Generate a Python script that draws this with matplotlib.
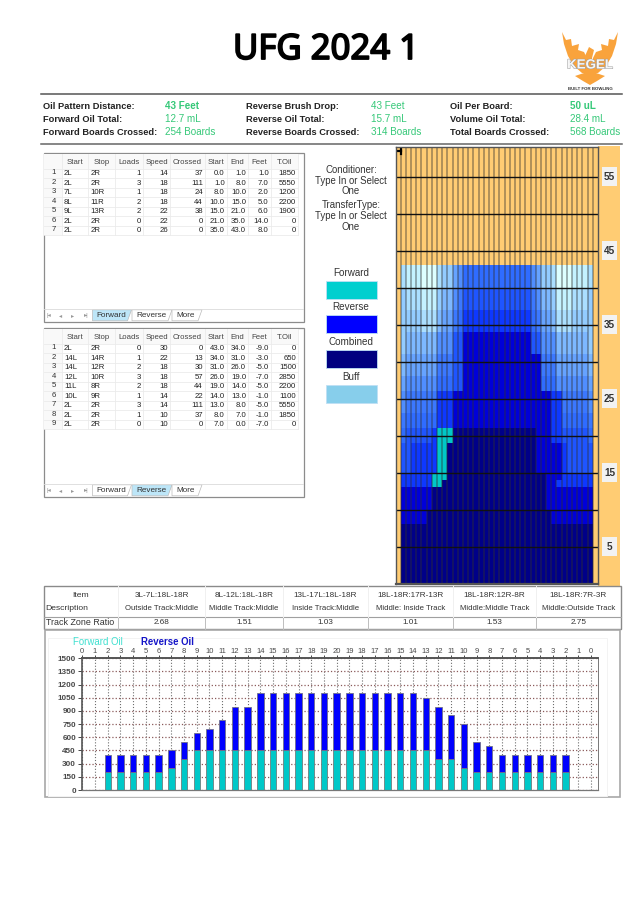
import matplotlib
matplotlib.use('Agg')
import matplotlib.pyplot as plt
import matplotlib.patheffects as pe
import numpy as np
from matplotlib.colors import ListedColormap
from matplotlib.patches import Polygon, Rectangle

W, H = 640, 905
ORANGE = '#FFCC73'
GREEN = '#35C878'
GREY = '#4A4A4A'

# top summary block
summary_labels = [['Oil Pattern Distance:', 'Forward Oil Total:', 'Forward Boards Crossed:'],
                  ['Reverse Brush Drop:', 'Reverse Oil Total:', 'Reverse Boards Crossed:'],
                  ['Oil Per Board:', 'Volume Oil Total:', 'Total Boards Crossed:']]
summary_values = [['43 Feet', '12.7 mL', '254 Boards'],
                  ['43 Feet', '15.7 mL', '314 Boards'],
                  ['50 uL', '28.4 mL', '568 Boards']]

# load tables
table_headers = ['Start', 'Stop', 'Loads', 'Speed', 'Crossed', 'Start', 'End', 'Feet', 'T.Oil']
forward_rows = [['2L', '2R', '1', '14', '37', '0.0', '1.0', '1.0', '1850'],
                ['2L', '2R', '3', '18', '111', '1.0', '8.0', '7.0', '5550'],
                ['7L', '10R', '1', '18', '24', '8.0', '10.0', '2.0', '1200'],
                ['8L', '11R', '2', '18', '44', '10.0', '15.0', '5.0', '2200'],
                ['9L', '13R', '2', '22', '38', '15.0', '21.0', '6.0', '1900'],
                ['2L', '2R', '0', '22', '0', '21.0', '35.0', '14.0', '0'],
                ['2L', '2R', '0', '26', '0', '35.0', '43.0', '8.0', '0']]
reverse_rows = [['2L', '2R', '0', '30', '0', '43.0', '34.0', '-9.0', '0'],
                ['14L', '14R', '1', '22', '13', '34.0', '31.0', '-3.0', '650'],
                ['14L', '12R', '2', '18', '30', '31.0', '26.0', '-5.0', '1500'],
                ['12L', '10R', '3', '18', '57', '26.0', '19.0', '-7.0', '2850'],
                ['11L', '8R', '2', '18', '44', '19.0', '14.0', '-5.0', '2200'],
                ['10L', '9R', '1', '14', '22', '14.0', '13.0', '-1.0', '1100'],
                ['2L', '2R', '3', '14', '111', '13.0', '8.0', '-5.0', '5550'],
                ['2L', '2R', '1', '10', '37', '8.0', '7.0', '-1.0', '1850'],
                ['2L', '2R', '0', '10', '0', '7.0', '0.0', '-7.0', '0']]

# lane map, one letter per board (13 left, 13 middle, 13 right) for each band of feet
lane_high = [59, 43, 40, 37, 34, 31, 28, 26, 23, 21, 19, 15, 14, 13, 10, 8]
lane_low = [43, 40, 37, 34, 31, 28, 26, 23, 21, 19, 15, 14, 13, 10, 8, 0]
lane_left = ['ooooooooooooo', 'o211100023356', 'o322211134467', 'o333322245578',
             'o344444466699', 'o455555577799', 'o566666688899', 'o6777777AAADD',
             'o7888888AAADD', 'o899999ATTTNN', 'o99AAAAATTNNN', 'oAAAAAATTTNNN',
             'oAAAAAATTNNNN', 'oDDDDDDNNNNNN', 'oDDDDDNNNNNNN', 'oNNNNNNNNNNNN']
lane_mid = ['ooooooooooooo', '8888888888888', '9999999999999', 'AAAAAAAAAAAAA',
            'DDDDDDDDDDDDD', 'DDDDDDDDDDDDD', 'DDDDDDDDDDDDD', 'DDDDDDDDDDDDD',
            'DDDDDDDDDDDDD', 'NNNNNNNNNNNNN', 'NNNNNNNNNNNNN', 'NNNNNNNNNNNNN',
            'NNNNNNNNNNNNN', 'NNNNNNNNNNNNN', 'NNNNNNNNNNNNN', 'NNNNNNNNNNNNN']
lane_right = ['ooooooooooooo', '653320001112o', '764431112223o', '875542223333o',
              '996664444443o', 'DD7775555554o', 'DD8886666665o', 'DDDDAA777776o',
              'DDDDAA888887o', 'NDDDAA999998o', 'NDDDDDA99999o', 'NNNDDDAAAAAAo',
              'NNNDDAAAAAAAo', 'NNNDDDDDDDDDo', 'NNNNDDDDDDDDo', 'NNNNNNNNNNNNo']
lane_codes = 'o0123456789ADNT'
lane_colors = [ORANGE, '#DDFFFF', '#C4F2FF', '#ABDFFF', '#93CCFF', '#7DB8FF', '#66A3FF',
               '#508EFF', '#3B78FF', '#2F6CFF', '#1F55FF', '#0E38FF', '#0000D8', '#000088',
               '#00C8C8']
feet_ticks = [5, 10, 15, 20, 25, 30, 35, 40, 45, 50, 55]
feet_labels = [5, 15, 25, 35, 45, 55]

# legend in the middle column
conditioner_text = ['Conditioner:', 'Type In or Select', 'One', 'TransferType:', 'Type In or Select', 'One']
legend_names = ['Forward', 'Reverse', 'Combined', 'Buff']
legend_colors = ['#00CFCF', '#0000FF', '#000080', '#87CEEB']

# track zone table
zone_items = ['3L-7L:18L-18R', '8L-12L:18L-18R', '13L-17L:18L-18R', '18L-18R:17R-13R', '18L-18R:12R-8R', '18L-18R:7R-3R']
zone_desc = ['Outside Track:Middle', 'Middle Track:Middle', 'Inside Track:Middle',
             'Middle: Inside Track', 'Middle:Middle Track', 'Middle:Outside Track']
zone_ratio = ['2.68', '1.51', '1.03', '1.01', '1.53', '2.75']

# bottom bar chart
board_labels = [0, 1, 2, 3, 4, 5, 6, 7, 8, 9, 10, 11, 12, 13, 14, 15, 16, 17, 18, 19, 20,
                19, 18, 17, 16, 15, 14, 13, 12, 11, 10, 9, 8, 7, 6, 5, 4, 3, 2, 1, 0]
forward_oil = [0, 0, 200, 200, 200, 200, 200, 250, 350, 450, 450, 450, 450, 450, 450, 450, 450, 450, 450, 450, 450,
               450, 450, 450, 450, 450, 450, 450, 350, 350, 250, 200, 200, 200, 200, 200, 200, 200, 200, 0, 0]
reverse_oil = [0, 0, 200, 200, 200, 200, 200, 200, 200, 200, 250, 350, 500, 500, 650, 650, 650, 650, 650, 650, 650,
               650, 650, 650, 650, 650, 650, 600, 600, 500, 500, 350, 300, 200, 200, 200, 200, 200, 200, 0, 0]
oil_ticks = [0, 150, 300, 450, 600, 750, 900, 1050, 1200, 1350, 1500]


def px_axes(x0, y0, x1, y1):
    # axes placed by picture pixels, y counted from the top
    return fig.add_axes([x0 / W, 1 - y1 / H, (x1 - x0) / W, (y1 - y0) / H])


def draw_sheet(top, rows, active_tab):
    sheet_font = 5.6
    bg.add_patch(Rectangle((43.5, top), 260, 169, fc='white', ec='#8C8C8C', lw=0.9))
    edges = [62, 88.3, 115, 143, 170, 205, 226.7, 248, 270.7, 298]
    head_y = top + 8.7
    first_line = top + 15.3
    pitch = 9.5
    bg.add_patch(Rectangle((44, top + 0.5), 254, 14.8, fc='#F9F9F9', ec='none'))
    bottom_line = first_line + pitch * len(rows)
    bg.add_patch(Rectangle((44, first_line), 18, pitch * len(rows), fc='#F9F9F9', ec='none'))
    for x in edges:
        bg.plot([x, x], [top + 1, bottom_line], color='#EBEBEB', lw=0.6)
    for i in range(len(rows) + 1):
        yy = first_line + pitch * i
        bg.plot([44, 298], [yy, yy], color='#EBEBEB', lw=0.6)
    for i, name in enumerate(table_headers):
        bg.text((edges[i] + edges[i + 1]) / 2, head_y, name, fontsize=sheet_font, color='#444444',
                ha='center', va='center')
    for r, row in enumerate(rows):
        yy = first_line + pitch * r + 5
        bg.text(54, yy - 1, str(r + 1), fontsize=sheet_font, color='#333333', ha='center', va='center')
        for i, val in enumerate(row):
            if i < 2:
                bg.text(edges[i] + 2, yy, val, fontsize=sheet_font, color='#222222', ha='left', va='center')
            else:
                bg.text(edges[i + 1] - 2, yy, val, fontsize=sheet_font, color='#222222', ha='right', va='center')
    # tab strip at the bottom of the sheet
    tab_y = top + 162.5
    bg.plot([44, 303], [tab_y - 6.5, tab_y - 6.5], color='#DADADA', lw=0.6)
    for x, mark in zip([49, 61, 73, 86], ['|◂', '◂', '▸', '▸|']):
        bg.text(x, tab_y, mark, fontsize=4.5, color='#999999', ha='center', va='center')
    tab_x = [92.5, 132, 172]
    tab_names = ['Forward', 'Reverse', 'More']
    tab_w = [39, 40, 30]
    for i, name in enumerate(tab_names):
        x = tab_x[i]
        col = '#BDE6F8' if name == active_tab else 'white'
        bg.add_patch(Polygon([(x, tab_y - 6), (x + tab_w[i], tab_y - 6), (x + tab_w[i] - 4, tab_y + 5), (x, tab_y + 5)],
                             fc=col, ec='#BBBBBB', lw=0.5))
        bg.text(x + tab_w[i] / 2 - 1, tab_y, name, fontsize=5.9, color='#333333', ha='center', va='center')


plt.rcParams['font.family'] = ['Liberation Sans', 'DejaVu Sans']
fig = plt.figure(figsize=(W / 100, H / 100), dpi=100, facecolor='white')

bg = fig.add_axes([0, 0, 1, 1])
bg.set_xlim(0, W)
bg.set_ylim(H, 0)
bg.axis('off')

# the bold face is not picked up for this family, so thicken it with a stroke
title = bg.text(326, 50, 'UFG 2024 1', fontsize=25, family='Noto Sans', ha='center', va='center', color='black')
title.set_path_effects([pe.withStroke(linewidth=1.3, foreground='black')])

# logo, rough shape of the bird
wing_l = [(562, 32), (564, 44), (568, 56), (574, 66), (582, 73), (587, 73), (587, 58), (584, 52),
          (578, 50), (579, 44), (572, 46), (571, 39), (566, 40)]
wing_r = [(1180 - x, y) for x, y in wing_l]
body = [(585, 56), (589, 47), (594, 50), (592, 58), (595, 73), (590, 80), (585, 73)]
tail = [(575, 76), (590, 71), (605, 76), (597, 81), (590, 85), (583, 81)]
for shape in [wing_l, wing_r, body, tail]:
    bg.add_patch(Polygon(shape, fc='#F9A33C', ec='none'))
logo_text = bg.text(590, 65.5, 'KEGEL', fontsize=9.6, fontweight='bold', color='#F6F6F6', ha='center', va='center')
logo_text.set_path_effects([pe.withStroke(linewidth=0.7, foreground='#9A9A9A')])
bg.text(590, 88.5, 'BUILT FOR BOWLING', fontsize=3.2, fontweight='bold', color='#333333', ha='center', va='center')

bg.plot([41, 622], [94, 94], color='#555555', lw=1.1)
bg.plot([41, 622], [144, 144], color='#666666', lw=1.1)

label_x = [43, 246, 450]
value_x = [165, 371, 570]
row_y = [109, 122, 135]
for c in range(3):
    for r in range(3):
        bg.text(label_x[c], row_y[r], summary_labels[c][r], fontsize=6.7, fontweight='bold', color='#222222', ha='left', va='baseline')
        weight = 'bold' if r == 0 and c != 1 else 'normal'
        bg.text(value_x[c], row_y[r], summary_values[c][r], fontsize=7.1, fontweight=weight, color=GREEN, ha='left', va='baseline')

draw_sheet(153.3, forward_rows, 'Forward')
draw_sheet(328.3, reverse_rows, 'Reverse')

# middle column
for text, yy in zip(conditioner_text, [170, 181, 191, 205, 216, 227]):
    bg.text(351, yy, text, fontsize=6.9, color='#333333', ha='center', va='center')
for name, col, yy in zip(legend_names, legend_colors, [272.5, 307, 342, 376.5]):
    bg.text(351, yy, name, fontsize=7.1, color='#333333', ha='center', va='center')
    bg.add_patch(Rectangle((325.5, yy + 8), 51, 18, fc=col, ec='#BFE0F5', lw=0.6))

# lane map strip and feet labels
bg.add_patch(Rectangle((598, 146.5), 22, 439, fc=ORANGE, ec='none'))
lane_y0, lane_y1 = 147, 583.5
for ft in feet_labels:
    yy = lane_y1 - (lane_y1 - lane_y0) * ft / 59
    bg.add_patch(Rectangle((601.7, yy - 9.5), 15.5, 19, fc='#F2F2F2', ec='none'))
    bg.text(609.5, yy, str(ft), fontsize=7.2, fontweight='bold', color='#333333', ha='center', va='center')

lane_grid = np.zeros((59, 39))
for hi, lo, left, mid, right in zip(lane_high, lane_low, lane_left, lane_mid, lane_right):
    codes = [lane_codes.index(c) for c in left + mid + right]
    lane_grid[lo:hi, :] = codes

ax_lane = px_axes(395.5, lane_y0, 598, lane_y1)
board_edges = np.arange(0.5, 40, 1)
feet_edges = np.arange(0, 60)
ax_lane.pcolormesh(board_edges, feet_edges, lane_grid, cmap=ListedColormap(lane_colors),
                   vmin=-0.5, vmax=len(lane_colors) - 0.5)
ax_lane.vlines(board_edges[1:-1], 0, 59, color='#303030', alpha=0.45, lw=1.2)
ax_lane.hlines(feet_ticks, 0.5, 39.5, color='#111111', lw=1.0)
ax_lane.set_xlim(0.5, 39.5)
ax_lane.set_ylim(0, 59)
ax_lane.set_xticks([])
ax_lane.set_yticks([])
for s in ax_lane.spines.values():
    s.set_color('#555555')
    s.set_linewidth(1.0)
ax_lane.spines['bottom'].set_linewidth(1.6)
ax_lane.plot([1.02, 1.5], [58.5, 58.5], color='black', lw=1.6)
ax_lane.plot([1.5, 1.5], [58.0, 59], color='black', lw=1.6)

# track zone table
zone_edges = [44, 118, 205, 283, 368, 453, 536, 621]
bg.add_patch(Rectangle((44, 586), 577, 43, fc='white', ec='#8A8A8A', lw=1.0))
bg.plot([44, 621], [616.7, 616.7], color='#A0A0A0', lw=0.8)
for x in zone_edges[1:-1]:
    bg.plot([x, x], [616.7, 629], color='#BDBDBD', lw=0.7)
    bg.plot([x, x], [586, 616.7], color='#F0F0F0', lw=0.7)
bg.text(81, 595, 'Item', fontsize=6.1, color='#333333', ha='center', va='center')
bg.text(45.5, 608, 'Description', fontsize=6.1, color='#333333', ha='left', va='center')
bg.text(45.5, 622.7, 'Track Zone Ratio', fontsize=6.4, color='#333333', ha='left', va='center')
for i in range(6):
    cx = (zone_edges[i + 1] + zone_edges[i + 2]) / 2
    bg.text(cx, 595, zone_items[i], fontsize=5.9, color='#333333', ha='center', va='center')
    bg.text(cx, 608, zone_desc[i], fontsize=5.6, color='#333333', ha='center', va='center')
    bg.text(cx, 622.7, zone_ratio[i], fontsize=5.9, color='#333333', ha='center', va='center')

# oil graph
bg.add_patch(Rectangle((44.7, 630), 575.5, 166.7, fc='white', ec='#A8A8A8', lw=1.2))
bg.add_patch(Rectangle((48, 638), 559, 158, fc='white', ec='#F3F3F3', lw=0.7))
bg.text(73, 642, 'Forward Oil', fontsize=6.9, color='#3FE0D0', ha='left', va='center')
bg.text(141, 642, 'Reverse Oil', fontsize=6.9, fontweight='bold', color='#1414C8', ha='left', va='center')

ax_oil = px_axes(82.3, 658.3, 598.3, 790)
positions = np.arange(len(board_labels))
ax_oil.grid(True, axis='y', color='#8B5A5A', linestyle=':', lw=0.9)
ax_oil.grid(True, axis='x', color='#6E6E6E', linestyle=':', lw=0.8)
ax_oil.set_axisbelow(True)
ax_oil.bar(positions, forward_oil, width=0.5, color='#00C8C8', edgecolor='#6F7F7F', lw=0.6)
ax_oil.bar(positions, reverse_oil, width=0.5, bottom=forward_oil, color='#0000FF', edgecolor='#70708A', lw=0.6)
ax_oil.set_xlim(0, 40.57)
ax_oil.set_ylim(0, 1500)
ax_oil.set_yticks(oil_ticks)
ax_oil.set_yticklabels(oil_ticks, fontsize=5.9, fontweight='bold', color=GREY)
ax_oil.set_xticks(positions)
ax_oil.set_xticklabels(board_labels, fontsize=5.5, color=GREY)
ax_oil.xaxis.tick_top()
ax_oil.tick_params(axis='x', length=2, width=0.7, pad=0.6, color='#444444')
ax_oil.tick_params(axis='y', length=3, width=0.7, pad=1.5, color='#444444')
ax_oil.spines['top'].set_color('#555555')
ax_oil.spines['top'].set_linewidth(1.4)
ax_oil.spines['left'].set_color('#555555')
ax_oil.spines['left'].set_linewidth(1.2)
ax_oil.spines['right'].set_color('#777777')
ax_oil.spines['right'].set_linewidth(0.7)
ax_oil.spines['bottom'].set_color('#777777')
ax_oil.spines['bottom'].set_linewidth(0.9)

fig.savefig('out.png', dpi=100)
